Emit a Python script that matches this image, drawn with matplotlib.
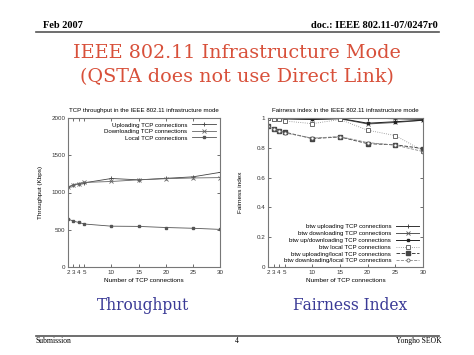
import matplotlib.pyplot as plt

# x positions (number of TCP connections)
conns = [2, 3, 4, 5, 10, 15, 20, 25, 30]

# throughput (Kbps)
uploading = [1070, 1100, 1120, 1130, 1188, 1170, 1190, 1210, 1270]
downloading = [1070, 1100, 1120, 1135, 1148, 1170, 1185, 1195, 1200]
local = [645, 615, 598, 577, 548, 545, 530, 520, 505]

# fairness index
f_up = [1.0, 1.0, 1.0, 1.0, 1.0, 1.0, 1.0, 0.995, 0.99]
f_down = [1.0, 0.995, 1.0, 0.995, 0.99, 0.995, 0.96, 0.97, 0.985]
f_updown = [1.0, 0.995, 0.995, 0.995, 0.99, 0.997, 0.965, 0.975, 0.985]
f_local = [1.0, 0.99, 0.995, 0.98, 0.962, 0.99, 0.918, 0.882, 0.78]
f_up_local = [0.944, 0.925, 0.915, 0.905, 0.862, 0.873, 0.828, 0.82, 0.795]
f_down_local = [0.944, 0.925, 0.915, 0.9, 0.865, 0.875, 0.835, 0.818, 0.775]

title_lines = ["IEEE 802.11 Infrastructure Mode", "(QSTA does not use Direct Link)"]

SERIF = "Liberation Serif"
WIDE_SERIF = "DejaVu Serif"
SANS = "Liberation Sans"
RED = "#d8503a"
BLUE = "#3a3a96"
SMALL = 4.4


def style_axes(ax, ylim, yticks):
    ax.set_xlim(2, 30)
    ax.set_ylim(*ylim)
    ax.set_xticks(conns)
    ax.set_yticks(yticks)
    ax.tick_params(direction="in", top=True, right=True, length=2.5, width=0.5,
                   labelsize=4.5, pad=2, colors="#333333")
    for s in ax.spines.values():
        s.set_linewidth(0.8)
        s.set_color("#777777")
    for lab in ax.get_xticklabels() + ax.get_yticklabels():
        lab.set_family(SANS)
    ax.set_xlabel("Number of TCP connections", fontsize=4.6, family=SANS, labelpad=2)


fig = plt.figure(figsize=(4.74, 3.55), dpi=100)

# header and footer
fig.text(43 / 474, 1 - 25 / 355, "Feb 2007", family=SERIF, weight="bold", fontsize=7.5,
         va="center", ha="left")
fig.text(438 / 474, 1 - 25 / 355, "doc.: IEEE 802.11-07/0247r0", family=SERIF,
         weight="bold", fontsize=7.5, va="center", ha="right")
fig.add_artist(plt.Line2D([36 / 474, 439 / 474], [1 - 32 / 355, 1 - 32 / 355],
                          color="#555555", lw=1.2))
fig.add_artist(plt.Line2D([36 / 474, 439 / 474], [1 - 336 / 355, 1 - 336 / 355],
                          color="#555555", lw=1.2))
fig.text(36 / 474, 1 - 341 / 355, "Submission", family=SERIF, fontsize=5.5,
         va="center", ha="left")
fig.text(237 / 474, 1 - 341 / 355, "4", family=SERIF, fontsize=5.5, va="center",
         ha="center")
fig.text(442 / 474, 1 - 341 / 355, "Yongho SEOK", family=SERIF, fontsize=5.5,
         va="center", ha="right")

fig.text(0.5, 1 - 53 / 355, title_lines[0], family=WIDE_SERIF, fontsize=13.8,
         color=RED, va="center", ha="center")
fig.text(0.5, 1 - 77 / 355, title_lines[1], family=WIDE_SERIF, fontsize=13.8,
         color=RED, va="center", ha="center")

# left chart: throughput
ax1 = fig.add_axes([68 / 474, 1 - 267 / 355, 152 / 474, 149 / 355])
ax1.plot(conns, uploading, color="#444444", lw=0.6, marker="+", ms=3, mew=0.6,
         label="Uploading TCP connections")
ax1.plot(conns, downloading, color="#666666", lw=0.6, marker="x", ms=2.5, mew=0.6,
         label="Downloading TCP connections")
ax1.plot(conns, local, color="#555555", lw=0.6, marker="s", ms=1.8,
         label="Local TCP connections")
style_axes(ax1, (0, 2000), [0, 500, 1000, 1500, 2000])
ax1.set_ylabel("Throughput (Kbps)", fontsize=4.6, family=SANS, labelpad=6)
ax1.set_title("TCP throughput in the IEEE 802.11 infrastructure mode", fontsize=SMALL,
              family=SANS, pad=4)
ax1.legend(loc="upper right", frameon=False, markerfirst=False,
           handlelength=3.8, labelspacing=0.2, borderaxespad=0.3,
           prop={"family": SANS, "size": SMALL})

# right chart: fairness index
ax2 = fig.add_axes([268 / 474, 1 - 267 / 355, 155 / 474, 149 / 355])
ax2.plot(conns, f_up, color="#333333", lw=0.7, marker="+", ms=3, mew=0.6,
         label="btw uploading TCP connections")
ax2.plot(conns, f_down, color="#555555", lw=0.7, marker="x", ms=2.5, mew=0.6,
         label="btw downloading TCP connections")
ax2.plot(conns, f_updown, color="#222222", lw=0.7, marker="s", ms=1.8,
         label="btw up/downloading TCP connections")
ax2.plot(conns, f_local, color="#888888", lw=0.6, ls=":", marker="s", ms=2.3,
         mfc="white", mec="#555555", mew=0.6, label="btw local TCP connections")
ax2.plot(conns, f_up_local, color="#444444", lw=0.7, ls="--", marker="s", ms=2.8,
         label="btw uploading/local TCP connections")
ax2.plot(conns, f_down_local, color="#888888", lw=0.6, ls="--", marker="o", ms=2.3,
         mfc="white", mec="#666666", mew=0.6,
         label="btw downloading/local TCP connections")
style_axes(ax2, (0, 1.0), [0, 0.2, 0.4, 0.6, 0.8, 1])
ax2.set_yticklabels(["0", "0.2", "0.4", "0.6", "0.8", "1"])
ax2.set_ylabel("Fairness index", fontsize=4.6, family=SANS, labelpad=10)
ax2.set_title("Fairness index in the IEEE 802.11 infrastructure mode", fontsize=SMALL,
              family=SANS, pad=4)
ax2.legend(loc="lower right", frameon=False, markerfirst=False,
           handlelength=3.8, labelspacing=0.25, borderaxespad=0.2,
           prop={"family": SANS, "size": SMALL})

fig.text(143 / 474, 1 - 305 / 355, "Throughput", family=WIDE_SERIF, fontsize=11.2,
         color=BLUE, va="center", ha="center")
fig.text(350 / 474, 1 - 305 / 355, "Fairness Index", family=WIDE_SERIF, fontsize=11.2,
         color=BLUE, va="center", ha="center")

fig.savefig("out.png", dpi=100)
